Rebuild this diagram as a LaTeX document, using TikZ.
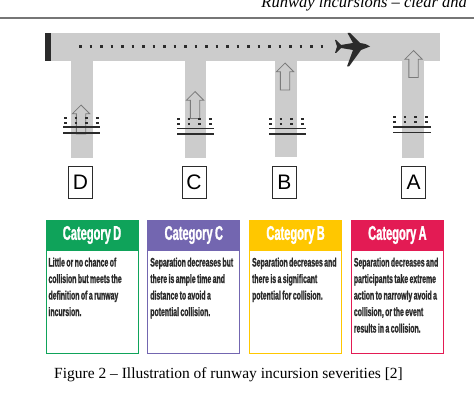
\documentclass[tikz,border=0pt]{standalone}
\usepackage{xcolor}
\usepackage{fontspec}
\setmainfont{Liberation Serif}
\setsansfont{Liberation Sans}
\newfontfamily\cardfont[FakeStretch=0.56,WordSpace=0.75,BoldFeatures={FakeBold=1.2}]{Liberation Sans}
\usetikzlibrary{positioning,shapes.arrows}
\definecolor{strip}{HTML}{CCCCCC}
\definecolor{ink}{HTML}{2B2B2B}
\definecolor{rulegray}{HTML}{767676}
\definecolor{arrowgray}{HTML}{7A7A7A}
\definecolor{catd}{HTML}{0FA35A}
\definecolor{catc}{HTML}{7366B0}
\definecolor{catb}{HTML}{FFC700}
\definecolor{cata}{HTML}{E31B54}
\tikzset{
  strippath/.style={fill=strip, draw=none},
  moveup/.style={
    single arrow, draw=arrowgray, line width=0.8pt, anchor=tip,
    shape border rotate=90, minimum width=16.5pt,
    single arrow head extend=4pt, inner sep=4.25pt, minimum height=#1
  },
  moveup/.default=27pt,
  holdline/.style={draw=ink, line width=1.8pt},
  holddots/.style={draw=ink, line width=2.8pt, dash pattern=on 2.8pt off 7.8pt},
  letterbox/.style={
    rectangle, draw=ink, line width=1pt, fill=white, anchor=north west,
    minimum width=24pt, minimum height=32pt, inner sep=0pt,
    font=\fontsize{21}{21}\sffamily
  },
  cardhead/.style={
    rectangle, draw=#1, fill=#1, line width=1pt, text=white,
    minimum width=92pt, minimum height=29pt, inner sep=0pt,
    font=\fontsize{19.8}{19.8}\cardfont\bfseries
  },
  cardbody/.style={
    rectangle, draw=#1, fill=white, line width=1pt, text=ink,
    text width=87pt, inner xsep=2.5pt, inner ysep=3pt, align=flush left,
    text height=13pt, text depth=83.5pt,
    font=\fontsize{12.3}{16.5}\cardfont\bfseries
  },
}

\begin{document}
\begin{tikzpicture}[x=1pt, y=-1pt, node distance=0pt and 8.8pt]
\useasboundingbox (0,0) rectangle (474,401);
\clip (0,0) rectangle (474,401);

% Page header
\node[anchor=base east, inner sep=0pt, font=\fontsize{16.5}{16.5}\selectfont\itshape] (page-head) at (467,8) {Runway incursions -- clear and};
\draw[rulegray, line width=2pt] (0,18) -- (474,18);

% Runway and taxiways
\fill[strippath] (45,33) rectangle (440,61);
\fill[strippath] (71,61) rectangle (93,158);
\fill[strippath] (184.5,61) rectangle (206,158);
\fill[strippath] (275,61) rectangle (297,157);
\fill[strippath] (402,61) rectangle (424,158);
\fill[ink] (45,33) rectangle (51,61);
\draw[ink, line width=2.2pt, dash pattern=on 2.5pt off 8pt] (79,46.5) -- (324,46.5);

% Aeroplane
\fill[ink] (370,46.5) .. controls (366,44) .. (360,43) -- (350,33) -- (347.5,33) -- (353,43)
  -- (341,45) -- (336,40) -- (335,40) -- (337,46.5) -- (335,53) -- (336,53) -- (341,48)
  -- (353,50) -- (347,66.5) -- (349,66.5) -- (361,50) .. controls (366,49) .. (370,46.5) -- cycle;

% Arrows on the taxiways
\node[moveup=29pt] (arrow-d) at (81,104.5) {};
\node[moveup] (arrow-c) at (195,91) {};
\node[moveup] (arrow-b) at (285,62.5) {};
\node[moveup] (arrow-a) at (413.5,50) {};

% Hold lines
\draw[holddots] (64,118) -- (100,118);
\draw[holddots] (64,123) -- (100,123);
\draw[holdline] (63,127) -- (100,127);
\draw[holdline] (63,133) -- (100,133);
\draw[holddots] (177,119) -- (213,119);
\draw[holddots] (177,124) -- (213,124);
\draw[holdline] (177,128.5) -- (214,128.5);
\draw[holdline] (177,134) -- (214,134);
\draw[holddots] (269,119) -- (305,119);
\draw[holddots] (269,124) -- (305,124);
\draw[holdline] (269,128.5) -- (306,128.5);
\draw[holdline] (269,134) -- (306,134);
\draw[holddots] (393,117) -- (429,117);
\draw[holddots] (393,122) -- (429,122);
\draw[holdline] (393,127) -- (431,127);
\draw[holdline] (393,132.5) -- (431,132.5);

% Letter boxes
\node[letterbox] (box-d) at (68,166) {D};
\node[letterbox] (box-c) at (181.5,166) {C};
\node[letterbox] (box-b) at (272,166) {B};
\node[letterbox] (box-a) at (401,166) {A};

% Category cards
\node[cardhead=catd, anchor=north west] (head-d) at (45.5,220) {Category D};
\node[cardbody=catd, below=of head-d] (body-d) {Little or no chance of\\collision but meets the\\definition of a runway\\incursion.};
\node[cardhead=catc, right=of head-d] (head-c) {Category C};
\node[cardbody=catc, below=of head-c] (body-c) {Separation decreases but\\there is ample time and\\distance to avoid a\\potential collision.};
\node[cardhead=catb, right=of head-c] (head-b) {Category B};
\node[cardbody=catb, below=of head-b] (body-b) {Separation decreases and\\there is a significant\\potential for collision.};
\node[cardhead=cata, right=of head-b] (head-a) {Category A};
\node[cardbody=cata, below=of head-a] (body-a) {Separation decreases and\\participants take extreme\\action to narrowly avoid a\\collision, or the event\\results in a collision.};

% Caption
\node[anchor=base west, inner sep=0pt, font=\fontsize{15.5}{15.5}\selectfont] (caption) at (54,378) {Figure 2 -- Illustration of runway incursion severities [2]};

\end{tikzpicture}
\end{document}
